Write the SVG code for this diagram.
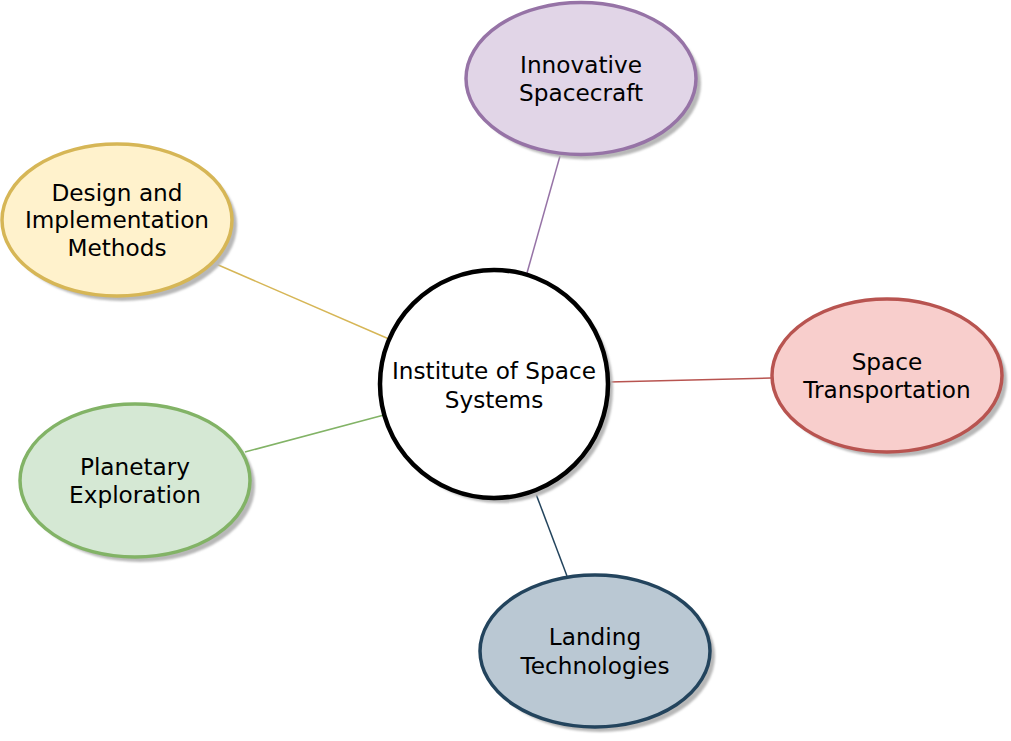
<svg xmlns="http://www.w3.org/2000/svg" width="1011" height="741" viewBox="0 0 1011 741">
<defs>
<filter id="sh" x="-20%" y="-20%" width="140%" height="140%">
<feGaussianBlur stdDeviation="1"/>
</filter>
</defs>
<style>
text{font-family:"DejaVu Sans",Verdana,sans-serif;font-size:23.2px;fill:#000;text-anchor:middle}
.shadow{fill:#b8b8b8;filter:url(#sh)}
.node{stroke-width:3.5}
.hub{stroke-width:4.5}
</style>
<rect width="1011" height="741" fill="#fff"/>
<g id="connectors" fill="none" stroke-width="1.5">
<line x1="527" y1="273" x2="560" y2="156" stroke="#9673a6"/>
<line x1="389" y1="339" x2="216" y2="264" stroke="#d6b656"/>
<line x1="609" y1="382" x2="771" y2="378" stroke="#b85450"/>
<line x1="384" y1="415" x2="245" y2="452" stroke="#82b366"/>
<line x1="536" y1="494" x2="567" y2="576" stroke="#23445d"/>
</g>
<g id="center">
<circle class="shadow" cx="499" cy="389" r="114"/>
<circle class="hub" cx="494" cy="384" r="114" fill="#fff" stroke="#000"/>
<text x="494" y="379">Institute of Space</text>
<text x="494" y="408">Systems</text>
</g>
<g id="innovative-spacecraft">
<ellipse class="shadow" cx="586" cy="83.5" rx="115" ry="76"/>
<ellipse class="node" cx="581" cy="78.5" rx="115" ry="76" fill="#e1d5e7" stroke="#9673a6"/>
<text x="581" y="73">Innovative</text>
<text x="581" y="101">Spacecraft</text>
</g>
<g id="design-implementation">
<ellipse class="shadow" cx="122" cy="225" rx="115" ry="76"/>
<ellipse class="node" cx="117" cy="220" rx="115" ry="76" fill="#fff2cc" stroke="#d6b656"/>
<text x="117" y="201">Design and</text>
<text x="117" y="228">Implementation</text>
<text x="117" y="256">Methods</text>
</g>
<g id="space-transportation">
<ellipse class="shadow" cx="892" cy="380.5" rx="115" ry="76.5"/>
<ellipse class="node" cx="887" cy="375.5" rx="115" ry="76.5" fill="#f8cecc" stroke="#b85450"/>
<text x="887" y="370">Space</text>
<text x="887" y="398">Transportation</text>
</g>
<g id="planetary-exploration">
<ellipse class="shadow" cx="140" cy="485.5" rx="115" ry="76.5"/>
<ellipse class="node" cx="135" cy="480.5" rx="115" ry="76.5" fill="#d5e8d4" stroke="#82b366"/>
<text x="135" y="475">Planetary</text>
<text x="135" y="503">Exploration</text>
</g>
<g id="landing-technologies">
<ellipse class="shadow" cx="600" cy="656" rx="115" ry="76"/>
<ellipse class="node" cx="595" cy="651" rx="115" ry="76" fill="#bac8d3" stroke="#23445d"/>
<text x="595" y="645">Landing</text>
<text x="595" y="674">Technologies</text>
</g>
</svg>
